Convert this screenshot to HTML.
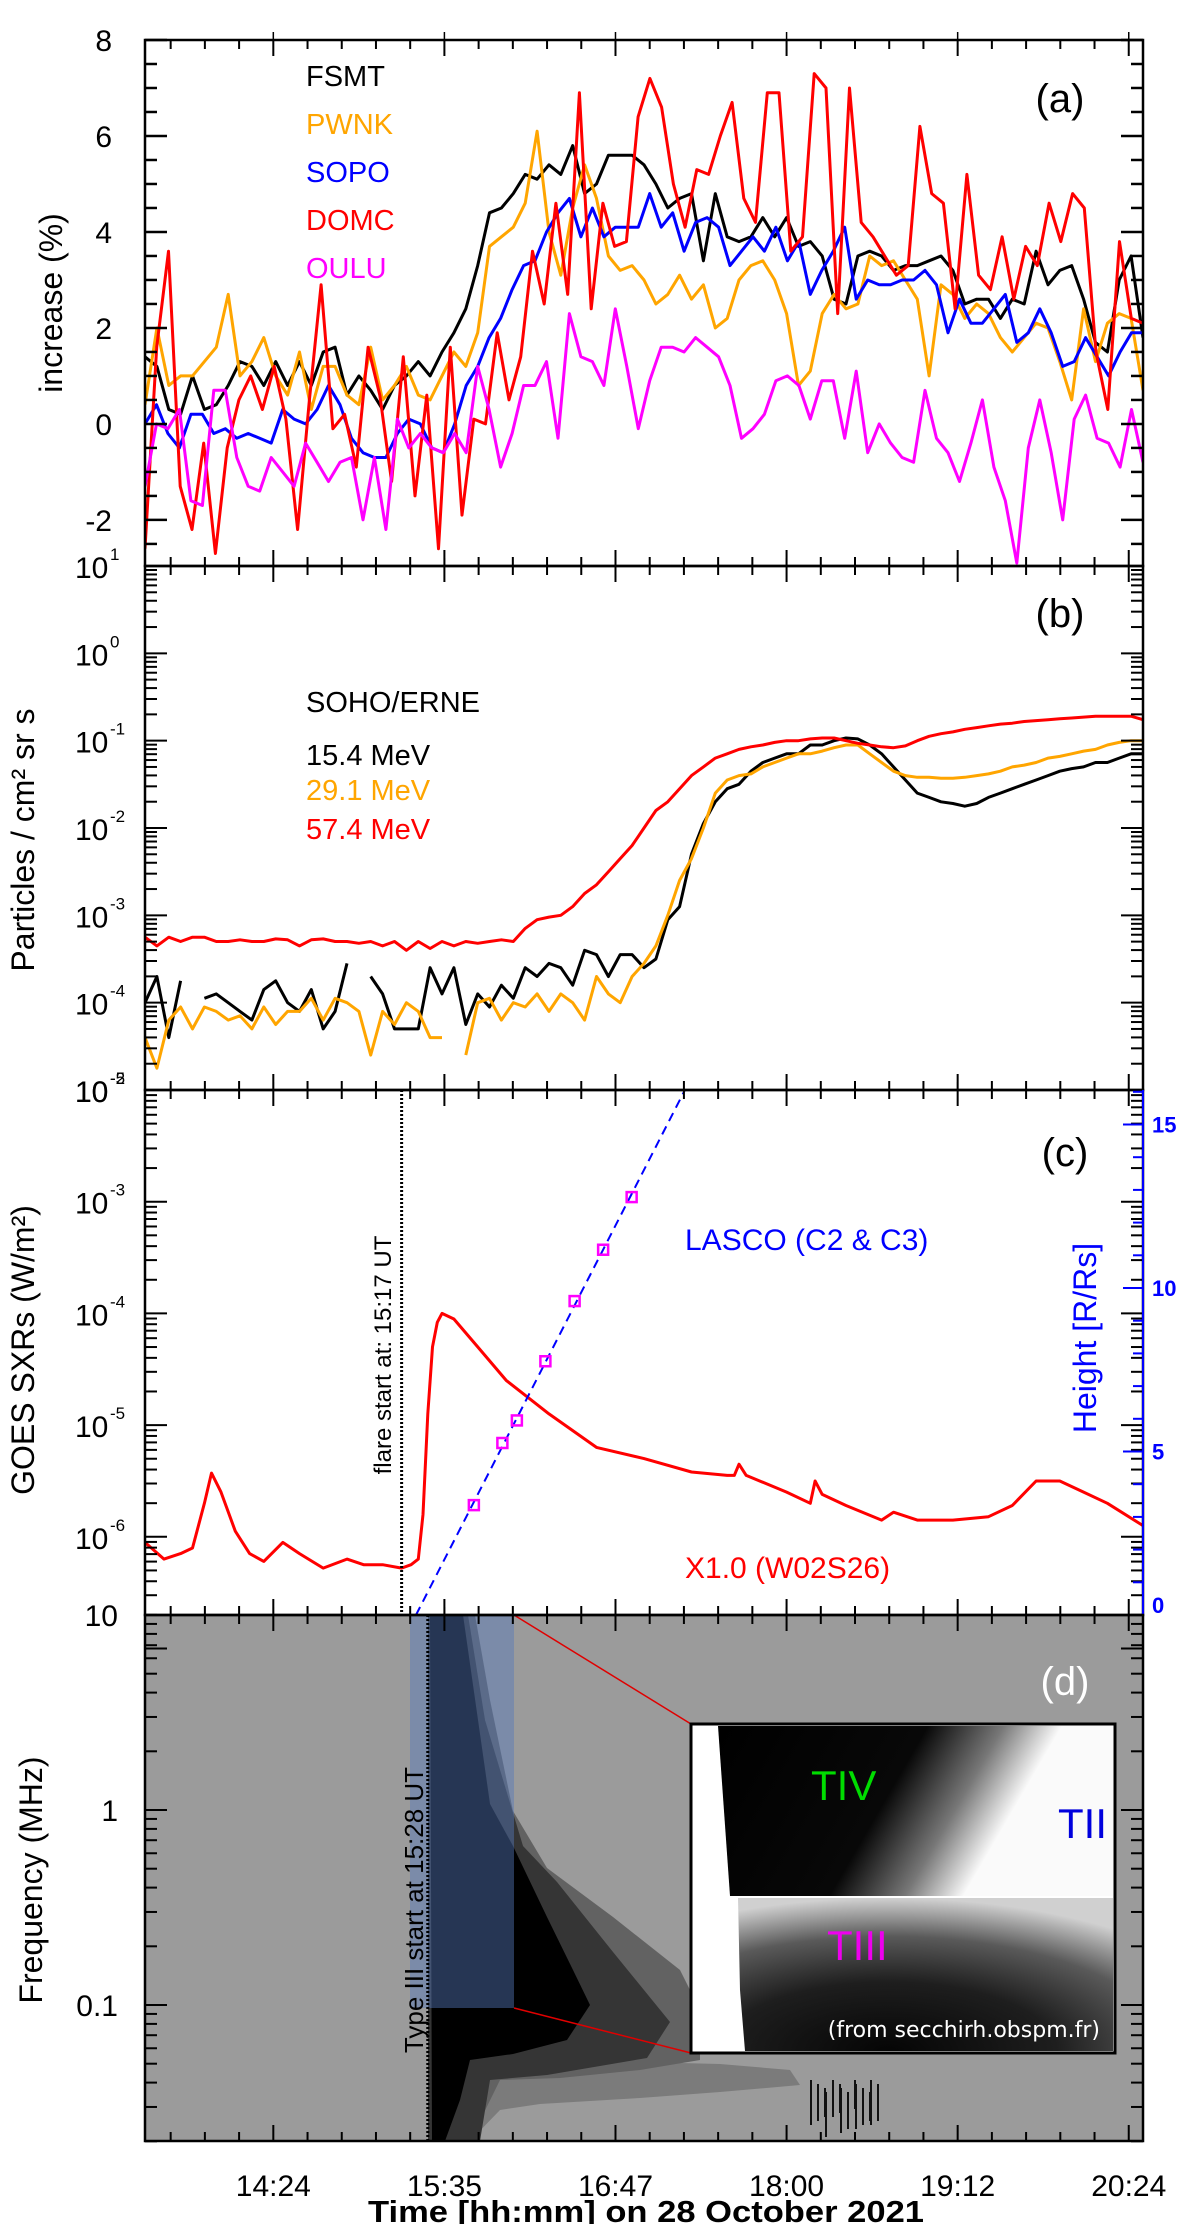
<!DOCTYPE html>
<html><head><meta charset="utf-8"><title>Oct 28 2021 event</title>
<style>
html,body{margin:0;padding:0;background:#fff;}
svg{display:block;font-family:"Liberation Sans",Arial,sans-serif;}
</style></head>
<body>
<svg id="fig" width="1200" height="2224" viewBox="0 0 1200 2224" xmlns="http://www.w3.org/2000/svg">
<defs>
  <linearGradient id="tivGrad" x1="0" y1="0" x2="1" y2="0.25">
    <stop offset="0" stop-color="#000"/><stop offset="0.5" stop-color="#080808"/><stop offset="0.68" stop-color="#777"/><stop offset="0.82" stop-color="#fafafa"/>
  </linearGradient>
  <radialGradient id="tiiiGrad" cx="0.4" cy="1.0" r="1.0">
    <stop offset="0" stop-color="#050505"/><stop offset="0.45" stop-color="#1e1e1e"/><stop offset="0.75" stop-color="#5a5a5a"/><stop offset="1" stop-color="#d0d0d0"/>
  </radialGradient>
  <clipPath id="clipA"><rect x="145" y="40" width="998" height="526"/></clipPath>
  <clipPath id="clipB"><rect x="145" y="566" width="998" height="524"/></clipPath>
  <clipPath id="clipC"><rect x="145" y="1090" width="998" height="525"/></clipPath>
  <clipPath id="clipD"><rect x="145" y="1615" width="998" height="526"/></clipPath>
</defs>
<g id="layer"></g>
</svg>
<script>
// ---------- data ----------
const nmNames = ["FSMT","PWNK","SOPO","DOMC","OULU"];
const nmColors = ["#000000","#ffa500","#0000ff","#ff0000","#ff00ff"];
const fsmt = [1.4,1.2,0.3,0.2,1.0,0.3,0.4,0.8,1.3,1.2,0.8,1.3,0.8,1.3,0.8,1.5,1.6,0.6,1.0,0.7,0.3,0.8,1.0,1.3,1.0,1.5,1.9,2.4,3.3,4.4,4.5,4.8,5.2,5.1,5.4,5.2,5.8,4.8,5.0,5.6,5.6,5.6,5.4,5.0,4.5,4.7,4.8,3.4,4.8,3.9,3.8,3.9,4.3,3.9,4.3,3.7,3.8,3.5,2.6,2.5,3.5,3.6,3.5,3.2,3.3,3.3,3.4,3.5,3.2,2.5,2.6,2.6,2.2,2.6,2.5,3.6,2.9,3.2,3.3,2.6,1.7,1.5,3.0,3.5,1.8];
const pwnk = [0.4,2.0,0.8,1.0,1.0,1.3,1.6,2.7,1.0,1.3,1.8,1.0,0.6,1.5,0.3,1.2,1.2,0.6,0.4,1.6,0.5,0.8,1.2,0.6,0.5,1.0,1.5,1.2,1.9,3.7,3.9,4.1,4.6,6.1,4.0,3.1,4.5,5.4,4.7,3.5,3.2,3.3,3.0,2.5,2.7,3.1,2.6,2.9,2.0,2.2,3.0,3.3,3.4,3.0,2.3,0.8,1.1,2.3,2.7,2.4,2.5,3.5,3.3,3.4,3.0,2.6,1.0,2.9,2.7,2.2,2.5,2.3,1.8,1.5,1.8,2.1,2.0,1.3,0.5,2.4,1.3,2.1,2.3,2.2,0.7];
const sopo = [0,0.4,-0.2,-0.5,0.2,0.2,-0.2,-0.1,-0.3,-0.2,-0.3,-0.4,0.3,0.1,0,0.3,0.8,0.4,-0.3,-0.6,-0.7,-0.7,-0.2,0.1,0,-0.5,-0.6,0,0.8,1.2,1.8,2.2,2.8,3.3,3.4,4.0,4.4,4.7,3.9,4.5,3.9,4.1,4.1,4.1,4.8,4.1,4.4,3.6,4.2,4.3,4.1,3.3,3.6,3.9,3.6,4.1,3.4,3.8,2.7,3.2,3.6,4.1,2.6,3.0,2.9,2.9,3.0,3.0,3.2,2.9,1.9,2.6,2.1,2.1,2.4,2.7,1.7,1.9,2.4,1.9,1.2,1.3,1.8,1.4,1.0,1.5,1.9,1.9];
const domc = [-2.6,1.6,3.6,-1.3,-2.2,-0.4,-2.7,-0.5,0.5,1.0,0.3,1.2,0.1,-2.2,0.5,2.9,-0.1,0.2,-0.9,1.6,0.6,-1.2,1.4,-1.5,0.6,-2.6,1.6,-1.9,0.1,0,1.9,0.5,1.4,3.6,2.5,4.6,2.7,6.9,2.4,4.6,3.7,3.8,6.4,7.2,6.6,5.0,4.1,5.3,5.2,6.0,6.7,4.7,4.2,6.9,6.9,3.6,3.9,7.3,7.0,2.3,7.0,4.2,3.9,3.5,3.1,3.3,6.2,4.8,4.6,2.4,5.2,3.1,2.8,3.9,2.6,3.7,3.3,4.6,3.8,4.8,4.5,1.5,0.3,3.8,2.2,2.1];
const oulu = [-1.3,0,-0.1,0.3,-1.6,-1.7,0.7,0.7,-0.7,-1.3,-1.4,-0.7,-1.0,-1.3,-0.4,-0.8,-1.2,-0.8,-0.7,-2.0,-0.7,-2.2,0.1,-0.5,-0.2,-0.5,-0.6,-0.2,-0.6,1.2,0.3,-0.9,-0.2,0.8,0.8,1.3,-0.3,2.3,1.4,1.3,0.8,2.4,1.2,-0.1,0.9,1.6,1.6,1.5,1.8,1.6,1.4,0.8,-0.3,-0.1,0.2,0.9,1.0,0.8,0.1,0.9,0.9,-0.3,1.1,-0.6,0,-0.4,-0.7,-0.8,0.7,-0.3,-0.6,-1.2,-0.4,0.5,-0.9,-1.6,-2.9,-0.5,0.5,-0.6,-2.0,0.1,0.6,-0.3,-0.4,-0.9,0.3,-0.8];
const nmSeries = [fsmt,pwnk,sopo,domc,oulu];

const erneNames = ["15.4 MeV","29.1 MeV","57.4 MeV"];
const erneColors = ["#000000","#ffa500","#ff0000"];
const erne15 = [-4.0,-3.7,-4.4,-3.75,null,-3.95,-3.9,-4.0,-4.1,-4.2,-3.85,-3.75,-4.0,-4.1,-3.85,-4.3,-4.1,-3.55,null,-3.7,-3.9,-4.3,-4.3,-4.3,-3.6,-3.9,-3.6,-4.25,-3.9,-4.05,-3.8,-3.95,-3.6,-3.7,-3.55,-3.6,-3.8,-3.4,-3.45,-3.7,-3.45,-3.45,-3.6,-3.5,-3.05,-2.9,-2.3,-1.95,-1.7,-1.55,-1.5,-1.35,-1.25,-1.2,-1.15,-1.15,-1.05,-1.05,-1.0,-0.97,-0.98,-1.05,-1.15,-1.3,-1.45,-1.6,-1.65,-1.7,-1.72,-1.75,-1.72,-1.65,-1.6,-1.55,-1.5,-1.45,-1.4,-1.35,-1.32,-1.3,-1.25,-1.25,-1.2,-1.15,-1.15];
const erne29 = [-4.4,-4.75,-4.2,-4.05,-4.3,-4.05,-4.1,-4.2,-4.15,-4.3,-4.05,-4.25,-4.1,-4.1,-3.95,-4.2,-3.95,-4.0,-4.1,-4.6,-4.1,-4.25,-4.0,-4.1,-4.4,-4.4,null,-4.6,-4.0,-3.95,-4.2,-4.0,-4.05,-3.9,-4.1,-3.9,-4.0,-4.2,-3.7,-3.9,-4.0,-3.7,-3.55,-3.35,-3.0,-2.6,-2.35,-2.0,-1.6,-1.45,-1.4,-1.38,-1.3,-1.25,-1.2,-1.15,-1.15,-1.12,-1.08,-1.05,-1.05,-1.15,-1.25,-1.35,-1.4,-1.42,-1.42,-1.43,-1.43,-1.42,-1.4,-1.38,-1.35,-1.3,-1.28,-1.25,-1.2,-1.18,-1.15,-1.12,-1.1,-1.05,-1.02,-1.0,-1.0];
const erne57 = [-3.25,-3.35,-3.25,-3.3,-3.25,-3.25,-3.3,-3.3,-3.28,-3.3,-3.3,-3.27,-3.28,-3.35,-3.28,-3.27,-3.3,-3.3,-3.32,-3.3,-3.35,-3.3,-3.4,-3.3,-3.38,-3.3,-3.35,-3.3,-3.32,-3.3,-3.28,-3.3,-3.15,-3.05,-3.02,-3.0,-2.9,-2.75,-2.65,-2.5,-2.35,-2.2,-2.0,-1.8,-1.7,-1.55,-1.4,-1.3,-1.2,-1.15,-1.1,-1.07,-1.05,-1.02,-1.0,-1.0,-0.98,-0.97,-0.97,-1.0,-1.03,-1.05,-1.07,-1.08,-1.06,-1.0,-0.95,-0.92,-0.9,-0.87,-0.85,-0.83,-0.81,-0.8,-0.78,-0.77,-0.76,-0.75,-0.74,-0.73,-0.72,-0.72,-0.72,-0.72,-0.76];
const erneSeries = [erne15,erne29,erne57];

const goesT = [0,8,15,20,25,28,32,38,44,50,58,65,75,85,92,100,108,112,115,117,119,121,123,125,130,140,152,170,190,210,230,245,248,250,253,270,280,282,285,295,310,315,325,340,355,365,375,385,395,405,420];
const goesV = [-6.05,-6.2,-6.15,-6.1,-5.7,-5.43,-5.6,-5.95,-6.15,-6.22,-6.05,-6.15,-6.28,-6.2,-6.25,-6.25,-6.28,-6.25,-6.2,-5.8,-4.9,-4.3,-4.08,-4.0,-4.05,-4.3,-4.6,-4.9,-5.2,-5.3,-5.42,-5.45,-5.45,-5.35,-5.45,-5.6,-5.7,-5.5,-5.62,-5.72,-5.85,-5.78,-5.85,-5.85,-5.82,-5.72,-5.5,-5.5,-5.6,-5.7,-5.9];
const lascoT = [138.4,150.4,156.5,168.5,180.8,192.8,204.8];
const lascoH = [3.36,5.26,5.95,7.76,9.6,11.17,12.78];

const xTickLabels = ["14:24","15:35","16:47","18:00","19:12","20:24"];
const xTickMin = [54,126,198,270,342,414];
const flareStart = 108;
const typeIIIStart = 119;

// ---------- axes ----------
const X0=145, X1=1143, TMAX=420;
const xS = t => X0 + t*(X1-X0)/TMAX;
const A={top:40,bot:566,min:-2.96,max:8};
const yA = v => A.bot - (v-A.min)/(A.max-A.min)*(A.bot-A.top);
const B={top:566,bot:1090,min:-5,max:1};
const yB = v => B.bot - (v-B.min)/(B.max-B.min)*(B.bot-B.top);
const C={top:1090,bot:1615,min:-6.7,max:-2};
const yC = v => C.bot - (v-C.min)/(C.max-C.min)*(C.bot-C.top);
const yH = h => 1615 - h*32.7;
const D={top:1615,bot:2141};
const yD = lf => 1810 - lf*195;

const NS="http://www.w3.org/2000/svg";
const layer=document.getElementById('layer');
function mk(tag,attrs,parent){const e=document.createElementNS(NS,tag);for(const k in attrs)e.setAttribute(k,attrs[k]);(parent||layer).appendChild(e);return e;}
function txt(s,attrs,parent){const e=mk('text',attrs,parent);e.textContent=s;return e;}
function pathFrom(ts,vs,yf){let d='',pen=false;for(let i=0;i<vs.length;i++){if(vs[i]===null){pen=false;continue;}d+=(pen?'L':'M')+xS(ts[i]).toFixed(1)+','+yf(vs[i]).toFixed(1);pen=true;}return d;}
function evenT(n){const a=[];for(let i=0;i<n;i++)a.push(i*TMAX/(n-1));return a;}

// ---------- panel d background ----------
const gD=mk('g',{'clip-path':'url(#clipD)'});


mk('rect',{x:145,y:1615,width:998,height:526,fill:'#9b9b9b'},gD);
mk('polygon',{points:'440,2060 500,2055 560,2058 640,2062 720,2064 790,2070 800,2085 720,2092 640,2098 540,2104 500,2110 470,2141 440,2141',fill:'#7b7b7b'},gD);
mk('polygon',{points:'428,1615 475,1615 490,1700 513,1811 547,1868 613,1917 680,1970 700,2010 700,2060 640,2070 560,2078 500,2080 470,2141 428,2141',fill:'#626262'},gD);
mk('polygon',{points:'428,1615 468,1615 485,1720 523,1846 557,1882 613,1952 670,2022 647,2058 547,2075 490,2080 480,2141 428,2141',fill:'#353535'},gD);
mk('polygon',{points:'430,1615 463,1615 490,1804 513,1846 547,1917 573,1970 590,2005 567,2040 513,2054 470,2060 460,2100 445,2141 432,2141',fill:'#000'},gD);
for(let k=0;k<14;k++){const x=810+k*5+(k%3)*2;mk('rect',{x:x,y:2080+(k%4)*4,width:2,height:45-(k%3)*8,fill:'#111'},gD);}
const box=mk('rect',{x:410,y:1615,width:104,height:393,fill:'rgba(84,120,187,0.45)'});


mk('line',{x1:514,y1:1615,x2:691,y2:1724,stroke:'#e00000','stroke-width':1.5});
mk('line',{x1:514,y1:2008,x2:691,y2:2053,stroke:'#e00000','stroke-width':1.5});
const inset=mk('g',{});


mk('rect',{x:691,y:1724,width:424,height:329,fill:'#fff'},inset);
mk('polygon',{points:'718,1726 1113,1726 1113,1896 730,1896',fill:'url(#tivGrad)'},inset);
mk('polygon',{points:'738,1898 1113,1898 1113,2051 745,2051 740,1990',fill:'url(#tiiiGrad)'},inset);
mk('line',{x1:720,y1:1897,x2:1113,y2:1897,stroke:'#fff','stroke-width':2},inset);
mk('rect',{x:691,y:1724,width:424,height:329,fill:'none',stroke:'#000','stroke-width':3},inset);
txt('TIV',{x:811,y:1800,'font-size':42,fill:'#00dd00'},inset);
txt('TII',{x:1058,y:1838,'font-size':42,fill:'#0000dd'},inset);
txt('TIII',{x:827,y:1960,'font-size':42,fill:'#ee00ee'},inset);
txt('(from secchirh.obspm.fr)',{x:1100,y:2037,'font-size':22,fill:'#fff','text-anchor':'end','font-family':'DejaVu Sans, sans-serif'},inset);

// ---------- series ----------
const gA=mk('g',{'clip-path':'url(#clipA)'});
nmSeries.forEach((s,i)=>{const p=mk('path',{d:pathFrom(evenT(s.length),s,yA),fill:'none',stroke:nmColors[i],'stroke-width':3,'stroke-linejoin':'round'},gA);

});
const gB=mk('g',{'clip-path':'url(#clipB)'});
erneSeries.forEach((s,i)=>{const p=mk('path',{d:pathFrom(evenT(s.length),s,yB),fill:'none',stroke:erneColors[i],'stroke-width':3,'stroke-linejoin':'round'},gB);

});
const gC=mk('g',{'clip-path':'url(#clipC)'});
const gp=mk('path',{d:pathFrom(goesT,goesV,yC),fill:'none',stroke:'#ff0000','stroke-width':3,'stroke-linejoin':'round'},gC);


(function(){const n=lascoT.length;let st=0,sh=0,stt=0,sth=0;for(let i=0;i<n;i++){st+=lascoT[i];sh+=lascoH[i];stt+=lascoT[i]*lascoT[i];sth+=lascoT[i]*lascoH[i];}
const m=(n*sth-st*sh)/(n*stt-st*st),b=(sh-m*st)/n;const t0=-b/m,t1=(16.2-b)/m;
const l=mk('line',{x1:xS(t0),y1:yH(0),x2:xS(t1),y2:yH(16.2),stroke:'#0000ff','stroke-width':2,'stroke-dasharray':'9,6'},gC);

})();
lascoT.forEach((t,i)=>{const r=mk('rect',{x:xS(t)-5,y:yH(lascoH[i])-5,width:10,height:10,fill:'none',stroke:'#ff00ff','stroke-width':2.5},gC);

});
const fl=mk('line',{x1:xS(flareStart),y1:C.top,x2:xS(flareStart),y2:C.bot,stroke:'#000','stroke-width':3,'stroke-dasharray':'2,2'});


const tl=mk('line',{x1:xS(typeIIIStart),y1:D.top,x2:xS(typeIIIStart),y2:D.bot,stroke:'#000','stroke-width':3,'stroke-dasharray':'2,2'});



// ---------- frames & ticks ----------
function xTicks(top,bot,col){
  for(let t=xTickMin[0]-3*14.4;t<=TMAX+0.1;t+=14.4){const x=xS(t);const major=xTickMin.some(m=>Math.abs(m-t)<0.5);const L=major?16:9;
    mk('line',{x1:x,y1:top,x2:x,y2:top+L,stroke:col,'stroke-width':2});mk('line',{x1:x,y1:bot,x2:x,y2:bot-L,stroke:col,'stroke-width':2});
    if(major){mk('line',{x1:x,y1:top,x2:x,y2:top-8,stroke:col,'stroke-width':1.5});}}
}
function frame(top,bot,name){const r=mk('rect',{x:X0,y:top,width:X1-X0,height:bot-top,fill:'none',stroke:'#000','stroke-width':2.5});}
frame(A.top,A.bot,'panel-a-frame');xTicks(A.top,A.bot,'#000');
for(let v=-2.5;v<=8;v+=0.5){const y=yA(v);const major=Math.abs(v-Math.round(v/2)*2)<0.01;const L=major?22:12;
  mk('line',{x1:X0,y1:y,x2:X0+L,y2:y,stroke:'#000','stroke-width':2.5});mk('line',{x1:X1,y1:y,x2:X1-L,y2:y,stroke:'#000','stroke-width':2.5});
  if(major){const t=txt(String(v),{x:112,y:y+11,'font-size':30,'text-anchor':'end'});}}
function logTicks(P,yf,labels,name){
  for(let d=P.min;d<P.max;d++){for(let k=1;k<10;k++){const y=yf(d+Math.log10(k));const L=k===1?22:12;
    mk('line',{x1:X0,y1:y,x2:X0+L,y2:y,stroke:'#000','stroke-width':2});mk('line',{x1:X1,y1:y,x2:X1-L,y2:y,stroke:'#000','stroke-width':2});}}
  labels.forEach(e=>{const y=yf(e);const t=txt('10',{x:75,y:y+12,'font-size':30});
    txt(String(e),{x:110,y:y-6,'font-size':17});});
}
frame(B.top,B.bot,'panel-b-frame');xTicks(B.top,B.bot,'#000');
logTicks(B,yB,[1,0,-1,-2,-3,-4,-5],'y-tick-b');
frame(C.top,C.bot,'panel-c-frame');xTicks(C.top,C.bot,'#000');
logTicks({min:-7,max:-2},yC,[-2,-3,-4,-5,-6],'y-tick-c');
mk('line',{x1:X1,y1:C.top,x2:X1,y2:C.bot,stroke:'#0000ff','stroke-width':2});
for(let h=0;h<=16;h++){const y=yH(h);if(y<C.top)continue;const L=h%5===0?20:10;mk('line',{x1:X1,y1:y,x2:X1-L,y2:y,stroke:'#0000ff','stroke-width':2});
  if(h%5===0){const t=txt(String(h),{x:1152,y:y+(h===0?-2:8),'font-size':22,'font-weight':'bold',fill:'#0000ff'});}}
frame(D.top,D.bot,'panel-d-frame');xTicks(D.top,D.bot,'#000');
for(let d=-2;d<1;d++){for(let k=1;k<10;k++){const lf=d+Math.log10(k);if(lf<-1.7)continue;const y=yD(lf);const L=k===1?22:12;
  mk('line',{x1:X0,y1:y,x2:X0+L,y2:y,stroke:'#000','stroke-width':2});mk('line',{x1:X1,y1:y,x2:X1-L,y2:y,stroke:'#000','stroke-width':2});}}
mk('line',{x1:X0,y1:yD(1),x2:X0+22,y2:yD(1),stroke:'#000','stroke-width':2});
[["10",1],["1",0],["0.1",-1]].forEach(p=>{const t=txt(p[0],{x:118,y:yD(p[1])+11,'font-size':30,'text-anchor':'end'});});
xTickLabels.forEach((s,i)=>{const t=txt(s,{x:xS(xTickMin[i]),y:2196,'font-size':30,'text-anchor':'middle'});});
</script>
<script>
const L2=document.getElementById('fig');
function T(s,a,name){const e=document.createElementNS("http://www.w3.org/2000/svg",'text');for(const k in a)e.setAttribute(k,a[k]);e.textContent=s;


L2.appendChild(e);return e;}
T('Time [hh:mm] on 28 October 2021',{x:646,y:2222,'font-size':31,'font-weight':'bold','text-anchor':'middle',textLength:556,lengthAdjust:'spacingAndGlyphs'},'x-axis-title');
T('increase (%)',{x:0,y:0,'font-size':32,'text-anchor':'middle',transform:'translate(62,303) rotate(-90)'},'y-axis-title-a');
T('Particles / cm² sr s',{x:0,y:0,'font-size':32,'text-anchor':'middle',transform:'translate(34,840) rotate(-90)'},'y-axis-title-b');
T('GOES SXRs (W/m²)',{x:0,y:0,'font-size':32,'text-anchor':'middle',transform:'translate(34,1350) rotate(-90)'},'y-axis-title-c');
T('Height [R/Rs]',{x:0,y:0,'font-size':32,'fill':'#0000ff','text-anchor':'middle',transform:'translate(1096,1338) rotate(-90)'},'y2-axis-title-c');
T('Frequency (MHz)',{x:0,y:0,'font-size':32,'text-anchor':'middle',transform:'translate(42,1880) rotate(-90)'},'y-axis-title-d');
T('flare start at: 15:17 UT',{x:0,y:0,'font-size':24,'text-anchor':'middle',transform:'translate(391,1355) rotate(-90)'},'flare-start-label');
T('Type III start at 15:28 UT',{x:0,y:0,'font-size':26,'text-anchor':'middle',transform:'translate(423,1910) rotate(-90)'},'type3-start-label');
T('(a)',{x:1060,y:112,'font-size':40,'text-anchor':'middle'},'panel-label-a');
T('(b)',{x:1060,y:627,'font-size':40,'text-anchor':'middle'},'panel-label-b');
T('(c)',{x:1065,y:1166,'font-size':40,'text-anchor':'middle'},'panel-label-c');
T('(d)',{x:1065,y:1695,'font-size':40,'text-anchor':'middle',fill:'#fff'},'panel-label-d');
const leg=[['FSMT','#000'],['PWNK','#ffa500'],['SOPO','#0000ff'],['DOMC','#ff0000'],['OULU','#ff00ff']];
leg.forEach((l,i)=>T(l[0],{x:306,y:86+i*48,'font-size':29,fill:l[1]},'legend-entry-'+l[0].toLowerCase()));
T('SOHO/ERNE',{x:306,y:712,'font-size':29},'legend-title-erne');
T('15.4 MeV',{x:306,y:765,'font-size':29},'legend-entry-15mev');
T('29.1 MeV',{x:306,y:800,'font-size':29,fill:'#ffa500'},'legend-entry-29mev');
T('57.4 MeV',{x:306,y:839,'font-size':29,fill:'#ff0000'},'legend-entry-57mev');
T('LASCO (C2 & C3)',{x:685,y:1250,'font-size':30,fill:'#0000ff'},'lasco-label');
T('X1.0 (W02S26)',{x:685,y:1578,'font-size':30,fill:'#ff0000'},'flare-class-label');
</script>
</body></html>
